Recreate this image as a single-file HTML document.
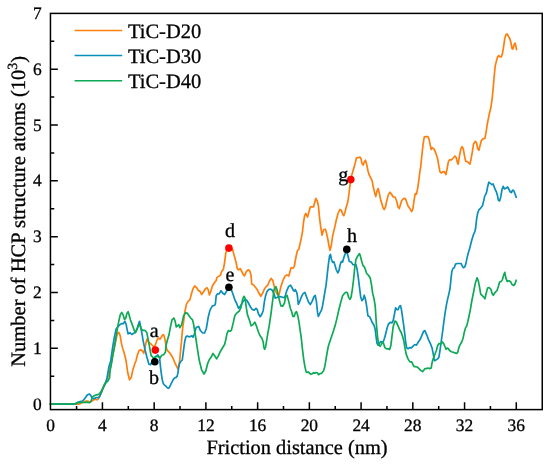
<!DOCTYPE html>
<html><head><meta charset="utf-8"><style>
html,body{margin:0;padding:0;background:#fff;}
body{width:550px;height:465px;overflow:hidden;}
svg{display:block;}
text{font-family:"Liberation Serif","Times New Roman",serif;fill:#000;text-rendering:geometricPrecision;stroke:#000;stroke-width:0.3px;}
</style></head><body>
<svg width="550" height="465" viewBox="0 0 550 465">
<rect width="550" height="465" fill="#fff"/>
<polyline fill="none" stroke="#FF7F0E" stroke-width="1.7" stroke-linejoin="round" stroke-linecap="round" points="50.3,404.2 76,404.2 78.4,404.2 79.6,403.9 81.3,403 83.6,402.2 86,401 87.7,401 89.5,401.9 91.5,401.2 93.5,400 95.3,399.3 97,399.8 98.2,399 99.1,396.6 100.2,395.2 101.5,392.5 103.5,387.5 105.6,382.9 108.9,374.2 111,365 113,354 115.5,342.3 116.7,336.3 117.9,332.7 119.1,332.7 120.3,336.3 121.5,343.6 122.7,348.4 123.9,352 125.1,356.8 126.1,361 127.7,372.5 129.5,379.8 131.3,377.3 133.1,368.9 134.9,363.5 136.1,360.5 137.2,355.6 139,350.8 140.8,349.6 142.6,351.4 143.8,353.2 145.1,347 146.2,341.9 147,339 148.8,342.6 150.6,343.7 152.4,345.5 153.9,347 155.4,344.8 156.5,341.5 157.6,339 159,338.2 160.1,339 161.2,337.5 162.3,335.3 163.4,334.6 164.1,336 164.9,339 165.6,343.4 166.7,349.2 168.2,351.4 170,353.2 172.2,356.7 173.5,359.3 174.8,362.7 176.5,366.2 177.8,368.8 178.7,366.2 179.3,363 179.8,360 180.6,350.2 181.5,341.6 182.2,332.9 182.8,326.9 183.6,321.7 184.7,312.5 186.5,304.1 188.3,301.1 189.9,299.9 191.6,293.3 193.1,288.4 194.7,286 196.7,287.8 198.6,290.8 199.8,290.8 201.6,294.5 203.4,292 205.2,289 207,287.8 208.2,289.6 209.4,295 210.6,292 212.4,286 214.2,283 216.2,280.5 216.8,277.6 218.6,276.4 220.4,275.2 221.6,271.6 223.4,269.2 224.6,262.5 225.8,252.9 227,249.3 229,247.5 232.5,249.3 234.3,255.9 236.1,262.5 237.3,268.6 238.5,269.8 240.3,268.6 241.5,271 243.3,274.6 244.5,275.8 246.3,271.6 248.1,269.8 249.9,271 251.1,275.8 251.7,284 253.6,285 255.4,287.2 257.2,289.6 259,293.3 260.8,296.3 262.6,293.3 264.4,289 266.2,286.6 268,284.8 269.5,281 271.2,278.5 272.8,280.5 274,285.4 275.2,290.2 277,293.9 279,294.8 280.8,287 283.2,279.8 285,276.1 286.8,274.9 288.7,276.1 289.9,271.9 291.1,267.7 292.9,268.3 294.3,266.5 295.3,260.5 296.5,254.5 297.4,250.8 298.9,249 300.1,243.6 301.3,238.2 302.5,231.6 303.5,222.5 304.7,215.3 305.9,213.5 307.6,217.1 308.8,212.3 310.3,206.9 311.9,206.9 313.6,206.9 314.6,202.7 315.8,198.4 317.2,200.8 318.4,205.7 319.4,216.5 320.6,226.1 322,235.2 323.6,229.8 325.4,229.2 326.6,233.4 328,240 329,246 330,250.2 331.2,246 332.6,236 334.4,228.6 336.2,220.5 338,213.5 339.9,209.5 341.4,210.2 342.6,213.9 343.8,215.7 345,212 346.2,207.2 347.4,203.6 348.2,199.4 349.3,191 350.2,183.7 351.7,175.3 353.5,169.3 355,163.9 356.5,157.8 358.3,157.5 360.1,157.2 361.1,159 361.9,163.3 363.1,165.1 364.3,162 365.5,160.2 366.7,164.5 367.9,170.5 369.1,174.7 370.9,178.3 372.1,180.7 373.3,187.3 374.8,193.4 375.8,196.4 377,191 378.2,188.6 379.4,193.4 380.8,200.6 382,204 383,207.8 384.2,209.6 385.4,207.2 386.6,201.5 388.4,194.6 390,192.2 391.4,194 393.2,197 395,197 396.8,201.5 398,207 399.3,208.5 400.5,204.5 401.7,200.5 403.8,198.3 405.6,198.9 406.8,202.5 408,206.1 409.9,208.6 411.7,211.6 412.9,208.6 414.1,200.1 415.3,193.5 416.5,194.1 417.7,188.1 418.9,179.6 420.1,170 420.7,167 421.9,154.9 423.1,144.1 424.3,136.9 426.1,136.6 427.9,136.6 429.1,139.3 430.3,145.3 431.2,149.5 432.1,147.7 434,148.9 435.8,153.1 437.6,158.6 438.8,165.8 440,171.8 441.2,173 443,171.8 444.2,171.5 446,174.5 447.2,168.2 448.4,161.6 449.6,159.8 451.4,159.8 453.2,158 455,156.1 456.2,157.5 457.5,163 458.2,164.2 459.4,156.3 460.8,149.1 462,146.7 463.2,148.5 464.4,155.1 465.6,161.1 467.4,161.7 468.7,163 469.9,164.2 471.1,158.7 472.3,152.1 473.5,144.3 475.3,141.3 476.5,142.5 477.7,148.5 478.9,150.3 480.1,145.5 481.3,140.7 483.1,138.9 484.9,138.3 486.1,132.2 487,126 487.9,120.8 489.1,114.8 490.9,107.5 492.1,99.1 493.3,87 494.2,76 495.2,66 496.4,61.1 497.6,56.9 498.8,55.7 500,56.9 501.2,56.9 502.4,53.9 503.6,46.7 504.8,38.3 506,34.6 507.2,34 508.4,36.4 509.6,38.3 510.8,41.9 512,48.5 512.9,49.1 513.8,45.5 515,43.1 515.9,46.1 516.5,49.7"/>
<polyline fill="none" stroke="#0A8FBA" stroke-width="1.7" stroke-linejoin="round" stroke-linecap="round" points="50.3,404.2 74,404.2 76.2,403.4 77.8,402.2 80.1,401.6 82.5,401 84.2,399.3 85.7,397.2 86.8,395.5 88.3,394.3 89.5,394.2 90.6,395.2 91.5,396.9 92.4,398.4 93.5,398.7 95,398.1 96.4,397.5 97.6,397.5 98.8,397.8 99.6,396.6 100.5,394.3 101.7,391.4 102.8,388.5 105.4,383.4 107,378 109,366.5 110.7,361 112.5,348.4 114.3,337.5 116.1,329.1 117.9,326.7 119.7,324.9 121.5,323.7 123.3,323.7 124.9,321.3 126.1,324.3 127.3,330.3 128.1,333.9 129.9,332.7 131.7,334.5 133.6,333.3 135.4,332.1 137.2,328.5 138.4,324.3 139.6,321.3 140.5,326.1 142,333.9 143.2,341.1 145,349.6 146.8,356.8 148,361 148.8,364.1 150.6,364.7 153,359.3 155.4,356.9 157.8,355 159.6,358 160.6,367.9 161.5,374.8 162.3,380 163.2,383.4 164.5,385.1 165.8,386 167,387.3 168.3,388.4 169.2,387.7 170.1,386 170.9,384.2 172.2,381.7 173.5,379.1 174.8,377.8 176.1,377.4 177.2,376.1 177.8,373.5 178.4,369.6 179.1,365.3 179.9,362.7 180.8,361.5 182.3,360 183.2,352.8 184.1,345.9 184.9,340.7 185.8,337.2 187.1,335.9 188.8,336.8 190.5,336.4 192,335.9 193.1,337.2 194.3,334.2 196.1,327.6 198.6,326.4 200.4,330.6 202.8,333 204.6,333 206.4,328.2 208.2,317.3 210,310.1 212.4,305.9 214.8,305.3 215.5,303 216.2,295.7 217.4,293.9 219.2,293.9 221,290.8 222.8,293.3 224.6,294.5 226.4,291.4 228.3,289 231.3,289.6 233.1,294.5 234.9,299.9 236.7,303.5 238.5,308.3 239.7,307.1 241.5,304.1 243.3,301.1 245.1,299.3 246.9,300.5 248.7,303.5 250.5,307.1 252.3,309.5 254.2,310.1 256,308.3 257.2,309.5 258.4,313.7 260.2,316.7 262,313.7 263.2,310.7 264.4,301.7 265.6,295.7 266.8,292 268.6,289.6 270.4,289 272.2,290.2 274,293.9 275.2,298.1 277,297.5 278.9,296.5 280.2,296.6 282.6,297.2 284.4,297.8 285.5,295 286.8,290.6 288.7,286.4 290.5,285.2 292.3,288.2 293.5,290.6 294.5,291.2 295.3,289.6 296.5,291.8 297.3,295 298.3,304.5 299.5,302 301.3,297.2 303.1,293.6 304.9,292.4 306.7,297.2 308.5,302 310.3,304.5 312.1,301.4 314,296.6 315.2,295.4 316.4,301.4 317.6,312.9 318.4,316.5 320,312.9 321.8,309.3 323,303.3 324.2,296 325.4,289 326,285.8 327.2,274.9 328.4,264.1 329.6,255.7 330.5,254.5 331.4,259.3 332.6,262.3 333.8,261.7 335,265.3 336.2,269.5 337.8,272.9 339,270.5 340.2,264.5 341.4,261.4 342.6,262 343.8,257.8 345,254.2 346.8,251.2 348,256 349.3,261.4 351.1,262 352.9,264.5 354.7,265.1 355.9,264.5 357.1,269.3 358.3,277.7 359.5,287.3 360.7,297 361.9,300.6 363.1,299.4 364.3,295.2 365.5,299.4 366.7,306.5 367.9,315.7 369.7,316.9 370.9,319.3 372.1,322.3 374,325.3 375.2,329.5 376,336.1 377,343.4 378.2,345.2 379.4,343.4 380.6,341.6 382.4,342.2 383.6,341 384.8,337.3 386,332.5 387.2,327.7 388.4,324.1 390.2,322.3 392,322.9 393.2,320.5 394.4,314.5 395.6,307.8 396.8,309.6 398,309.6 399.6,306 400.5,305.7 401.4,309.3 402.6,317.7 403.8,326.1 405,335.8 405.6,342 406.8,348.1 408,348.7 409.9,347.5 411.1,348.1 412.9,346.3 414.7,344.5 416.5,345.1 418.3,342 420.1,339.6 421.9,335.4 423.7,331.2 424.9,330.6 426.7,334.8 428.5,339.6 430.3,343.3 432.1,348.1 433.3,354.1 434.3,360.7 435.8,360.1 437.6,358.9 438.8,357.7 440,350.5 441.2,341.5 442.7,331 443.9,321.3 445.1,312.9 446.3,305.7 447.5,299.6 448.7,294.8 449.9,289 450.5,284 451.1,277.3 451.9,271.3 453.1,268.3 454.3,267.7 455.5,264.1 457.3,263.5 459.2,263.5 461,263.5 462.2,265.9 463.4,267.7 464.6,267.1 465.8,264.1 467,258.1 468.2,253.3 469.4,249.6 470.6,244.8 471.8,240 473.5,234.6 474.7,232 475.5,229 475.9,225.6 476.7,218.4 477.7,213 478.9,209.9 480.7,208.1 482.5,205.7 483.7,200.9 484.7,196.1 485.5,194.9 486.7,191.9 487.6,187 488.8,182.2 490.3,183.4 491.9,184.6 493.1,184 494,186.4 495.2,189.5 496.4,191.9 497.6,196.1 498.4,200.3 499.6,200.9 500.8,196.7 502,189.5 503.2,186.4 504.4,188.9 506,188.3 507.6,187 509,189.5 510.2,191.9 511.4,192.5 512.6,190.1 513.8,190.7 515,193.7 516.2,197.3"/>
<polyline fill="none" stroke="#0DAA55" stroke-width="1.7" stroke-linejoin="round" stroke-linecap="round" points="50.3,404.2 72,403.9 75.5,403.6 77.8,402.7 80.1,402.5 82.5,402.2 84.8,402.5 87.1,402.2 89.2,402.7 90.6,401.9 91.8,399 92.9,396.6 94.1,395.8 95.3,395.2 96.4,394.9 97.6,394.6 98.8,394.3 99.9,393.1 101.1,391.4 102.2,389.4 103.4,387 104.8,383.4 106.7,382 107.8,381 109.5,378 110.2,370 111.9,361 112.7,355.7 113.7,350.8 115.5,339.9 117.3,329.1 118.9,320.7 120.3,314.6 121.7,312.5 123,314.6 124.5,319.5 125.7,318.3 126.9,313.4 128.1,311.6 129.3,315.8 130.5,320.1 131.7,323.1 133,326.7 134.2,330.3 135.4,332.7 136.6,330.3 137.8,327.3 139,324.3 140.2,326.1 141.4,329.1 142.6,330.3 144.4,330.3 145.6,330.9 146.8,332.7 148,338.7 149.2,344.8 150.4,352 151.2,355.7 153.6,358 156.6,356.3 159,356.9 160,358 161.8,355.3 163.6,354.7 165.4,352.3 166,345.7 167.2,340.8 169,334.8 170.2,328.2 172,319.8 173.9,318 175.1,321 176.3,327 177.5,325.8 178.7,324.6 179.9,327.6 181.7,324.6 183.5,316.1 185.3,312.8 187.1,313.1 188.9,315.5 190.7,318 192.5,319.8 193.7,324.6 194.9,333 195.5,336 197.3,348.1 199.2,360.1 201.6,369.8 204,374 205.8,371 207.6,363.7 209.4,359.5 211.2,357.1 213,353.5 214.8,355.9 216.6,358.9 218.4,355.9 220.2,351.7 222.7,347.5 224.6,344.5 225.8,339.6 227,333.6 228.3,330.6 230.1,331.2 231.3,330.6 233.1,323.4 234.9,315.5 236.7,313.1 239.1,311.3 240.9,307.7 242.7,299.3 243.9,296.3 245.1,298.1 246.3,307.7 247.5,314.9 249.3,319.8 251.1,325.8 253,324.6 254.8,322.2 256.6,326.4 258.4,332 260.2,336 262,338.4 263.2,342 263.8,346.9 264.6,349.3 265.6,346.9 266.8,339.6 268,332.4 269.2,325.8 271,313.7 272.8,299.3 274,289.6 275.8,286.6 277,289.6 278.3,295.7 280.1,302.9 281,305.9 282.6,306.3 284.4,303.3 285.6,297.2 287.1,295.4 288.7,301.4 290.5,308.7 291.7,311.7 292.9,316.5 294.1,316.5 295.3,312.9 296.5,311.7 297.7,315.3 298.9,321.3 300.1,329.8 301.3,338.2 302.5,349.6 303.7,359.3 304.9,366.5 306.1,371.9 307.3,372.5 308.3,371.9 309.5,373.1 310.9,374.3 312.1,373.7 313.6,372.8 315.2,373.1 316.4,372.5 317.6,373.1 318.4,374.7 320,373.7 321.8,373.1 323.6,370.7 324.8,366.5 326,359.3 327.2,352 328.4,346 330.2,340.6 332.6,333.4 335,326.1 336.8,318.9 338.7,310.5 340.5,303.3 342.6,295.8 344.4,293.4 346.2,292.2 347.4,292.8 348.7,297.6 349.9,299.4 351.1,297 352.3,289.8 353.5,280.1 354.7,268.1 355.9,259.6 357.7,256 359.5,253.6 360.7,257.2 361.9,262 363.1,265.7 364.3,266.9 365.5,269.9 366.7,273.5 368.5,275.3 370.3,278.3 371.5,284.9 372.7,293.4 373.9,298.2 375.2,306 376.4,324.1 377.6,337.3 378.8,344.6 380,346.4 381.2,344.6 382.4,342.2 383.6,343.4 384.8,347.6 386.6,348.8 388.4,348.8 389.6,349.4 390.8,345.8 392,336.1 393.2,326.5 395,321.1 396.2,321.7 398,325.9 399.9,330.1 401.4,333 402.6,336.6 403.8,340.8 405,348.1 406.2,354.1 408,358.9 409.9,361.9 411.7,361.9 412.9,364.3 414.1,366.7 415.9,366.7 417.7,367.3 419.5,369.2 420.7,370.4 422.5,371.6 423.7,370.4 424.9,368.6 426.7,368.6 427.9,368 429.7,368.6 431.2,368 431.9,363.7 432.7,360.1 433.9,357.1 435.2,353.5 436.4,350.5 437.6,345.7 439,343.5 440.8,344 442.4,342 443.6,343.4 444.8,346.3 446,349.3 447.2,348.1 448.4,348.7 449.6,350.5 451.4,351.7 453.2,352.3 455,352.9 456.8,353.5 458,351.7 458.7,348.1 459.9,345.1 461.7,342 463.1,338.2 464.3,332.2 465.5,327.9 466.7,326.1 467.9,321.3 469.2,315.3 470.4,309.3 471.6,302 472.8,296 474,290 475.3,283.3 477.1,277.8 478.3,280.8 479.5,286.9 480.7,294.1 482.5,295.9 483.7,297.1 484.9,298.9 486.1,293.5 487.6,288.1 489.1,287.5 490.9,289.3 492.1,293.5 493.3,295.3 495.2,292.3 497,290.5 498.2,286.9 499.6,282 501.2,281.4 502.4,279.6 503.6,275.4 504.8,272.4 506,278.4 507.2,281.4 509,280.8 510.8,282 512,284.5 513.8,285.4 515,283.9 516.2,280.2"/>
<rect x="50.45" y="13.4" width="491.80" height="396.20" fill="none" stroke="#000" stroke-width="1.5"/>
<path d="M76.57 409.6V405.90 M102.43 409.6V402.30 M128.30 409.6V405.90 M154.16 409.6V402.30 M180.03 409.6V405.90 M205.90 409.6V402.30 M231.76 409.6V405.90 M257.63 409.6V402.30 M283.49 409.6V405.90 M309.36 409.6V402.30 M335.23 409.6V405.90 M361.09 409.6V402.30 M386.96 409.6V405.90 M412.82 409.6V402.30 M438.69 409.6V405.90 M464.56 409.6V402.30 M490.42 409.6V405.90 M516.29 409.6V402.30 M50.45 376.28H54.25 M50.45 348.36H57.85 M50.45 320.44H54.25 M50.45 292.52H57.85 M50.45 264.60H54.25 M50.45 236.68H57.85 M50.45 208.76H54.25 M50.45 180.84H57.85 M50.45 152.92H54.25 M50.45 125.00H57.85 M50.45 97.08H54.25 M50.45 69.16H57.85 M50.45 41.24H54.25" stroke="#000" stroke-width="1.5" fill="none"/>
<text x="50.70" y="431.2" font-size="17.4" text-anchor="middle">0</text>
<text x="102.43" y="431.2" font-size="17.4" text-anchor="middle">4</text>
<text x="154.16" y="431.2" font-size="17.4" text-anchor="middle">8</text>
<text x="205.90" y="431.2" font-size="17.4" text-anchor="middle">12</text>
<text x="257.63" y="431.2" font-size="17.4" text-anchor="middle">16</text>
<text x="309.36" y="431.2" font-size="17.4" text-anchor="middle">20</text>
<text x="361.09" y="431.2" font-size="17.4" text-anchor="middle">24</text>
<text x="412.82" y="431.2" font-size="17.4" text-anchor="middle">28</text>
<text x="464.56" y="431.2" font-size="17.4" text-anchor="middle">32</text>
<text x="516.29" y="431.2" font-size="17.4" text-anchor="middle">36</text>
<text x="41.8" y="409.80" font-size="17.4" text-anchor="end">0</text>
<text x="41.8" y="353.96" font-size="17.4" text-anchor="end">1</text>
<text x="41.8" y="298.12" font-size="17.4" text-anchor="end">2</text>
<text x="41.8" y="242.28" font-size="17.4" text-anchor="end">3</text>
<text x="41.8" y="186.44" font-size="17.4" text-anchor="end">4</text>
<text x="41.8" y="130.60" font-size="17.4" text-anchor="end">5</text>
<text x="41.8" y="74.76" font-size="17.4" text-anchor="end">6</text>
<text x="41.8" y="18.92" font-size="17.4" text-anchor="end">7</text>
<text x="297.0" y="453.6" font-size="20.4" text-anchor="middle">Friction distance (nm)</text>
<text transform="translate(24.9,211.3) rotate(-90)" font-size="20.5" text-anchor="middle">Number of HCP structure atoms (10<tspan dy="-7.8" font-size="14">3</tspan><tspan dy="7.8">)</tspan></text>
<line x1="74.6" y1="30.6" x2="122.2" y2="30.6" stroke="#FF7F0E" stroke-width="1.5"/>
<text x="127.9" y="37.5" font-size="20.5">TiC-D20</text>
<line x1="74.6" y1="55.6" x2="122.2" y2="55.6" stroke="#0A8FBA" stroke-width="1.5"/>
<text x="127.9" y="62.7" font-size="20.5">TiC-D30</text>
<line x1="74.6" y1="80.8" x2="122.2" y2="80.8" stroke="#0DAA55" stroke-width="1.5"/>
<text x="127.9" y="87.9" font-size="20.5">TiC-D40</text>
<circle cx="155.3" cy="350.1" r="3.8" fill="#FF0000"/>
<circle cx="154.8" cy="361.7" r="3.8" fill="#000"/>
<circle cx="228.9" cy="248.1" r="3.8" fill="#FF0000"/>
<circle cx="228.9" cy="287.2" r="3.8" fill="#000"/>
<circle cx="350.8" cy="179.6" r="3.8" fill="#FF0000"/>
<circle cx="346.8" cy="249.4" r="3.8" fill="#000"/>
<text x="154.3" y="336.9" font-size="20" text-anchor="middle">a</text>
<text x="154" y="383.9" font-size="20" text-anchor="middle">b</text>
<text x="230" y="236.9" font-size="20" text-anchor="middle">d</text>
<text x="230" y="281.3" font-size="20" text-anchor="middle">e</text>
<text x="343.2" y="181.3" font-size="20" text-anchor="middle">g</text>
<text x="352" y="241.6" font-size="20" text-anchor="middle">h</text>
</svg>
</body></html>
